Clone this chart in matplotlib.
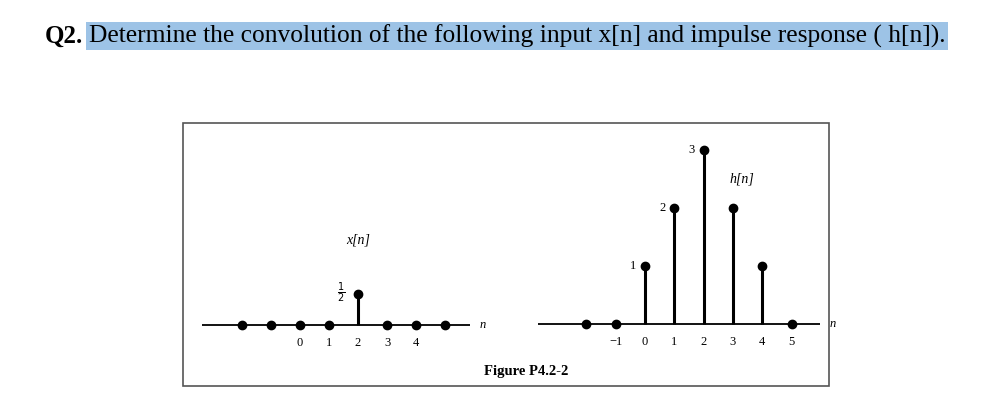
import matplotlib
matplotlib.use("Agg")
import matplotlib.pyplot as plt
from matplotlib.patches import Rectangle

n_x = [-2, -1, 0, 1, 2, 3, 4, 5]
x_vals = [0, 0, 0, 0, 0.5, 0, 0, 0]
x_ticks = [0, 1, 2, 3, 4]
n_h = [-2, -1, 0, 1, 2, 3, 4, 5]
h_vals = [0, 0, 1, 2, 3, 2, 1, 0]
h_ticks = [-1, 0, 1, 2, 3, 4, 5]

W, H = 988, 419
fig = plt.figure(figsize=(W/100, H/100), dpi=100)
serif = "Liberation Serif"

def px_ax(x0, x1, y0, y1):
    return fig.add_axes([x0/W, (H-y1)/H, (x1-x0)/W, (y1-y0)/H])

# frame box
fig.patches.append(Rectangle((183/W, (H-386)/H), (829-183)/W, (386-123)/H,
                             transform=fig.transFigure, fill=False,
                             edgecolor="#555555", lw=1.2))

# title
fig.text(45/W, (H-36)/H, "Q2.", fontsize=18, fontweight="bold", family=serif,
         va="center", ha="left")
fig.text(89/W, (H-36)/H, "Determine the convolution of the following input x[n] and impulse response ( h[n]).",
         fontsize=18.4, family=serif, va="center", ha="left",
         bbox=dict(boxstyle="square,pad=0.1", fc="#9dc3e6", ec="none"))

def stem(ax, n, v, ticks, xlim, ylim, unit_px):
    ax.set_xlim(*xlim); ax.set_ylim(*ylim); ax.axis("off")
    ax.axhline(0, color="black", lw=1.3, xmin=0, xmax=1)
    for ni, vi in zip(n, v):
        if vi != 0:
            ax.plot([ni, ni], [0, vi], color="black", lw=2.2, solid_capstyle="butt")
    ax.plot(n, v, "o", color="black", ms=6)
    for t in ticks:
        lab = "\u2212" + str(-t) if t < 0 else str(t)
        ax.text(t, -18/unit_px, lab, fontsize=9, family=serif, ha="center", va="center")
    ax.text(xlim[1] + 13/29.3, 0, "n", fontsize=9, family=serif, style="italic",
            ha="center", va="center", clip_on=False)

axL = px_ax(202, 470, 100, 380)
uL = 62
stem(axL, n_x, x_vals, x_ticks, ((202-300)/29, (470-300)/29),
     (-(380-325)/uL, (325-100)/uL), uL)
axL.text(2, 0.5 + 54/uL, "x[n]", fontsize=10, family=serif, style="italic", ha="center", va="center")
axL.text(2 - 17/29, 0.5 + 1/uL, r"$\frac{1}{2}$", fontsize=10, ha="center", va="center")

axR = px_ax(538, 820, 100, 380)
uR = 58
stem(axR, n_h, h_vals, h_ticks, ((538-645)/29.3, (820-645)/29.3),
     (-(380-324)/uR, (324-100)/uR), uR)
for ni, vi in zip(n_h, h_vals):
    if vi > 0 and ni <= 2:
        axR.text(ni - 12/29.3, vi, str(vi), fontsize=9, family=serif, ha="center", va="center")
axR.text(3.3, 2 + 29/uR, "h[n]", fontsize=10, family=serif, style="italic", ha="center", va="center")

fig.text(526/W, (H-371)/H, "Figure P4.2-2", fontsize=10.5, fontweight="bold",
         family=serif, ha="center", va="center")

fig.savefig("out.png", dpi=100)
